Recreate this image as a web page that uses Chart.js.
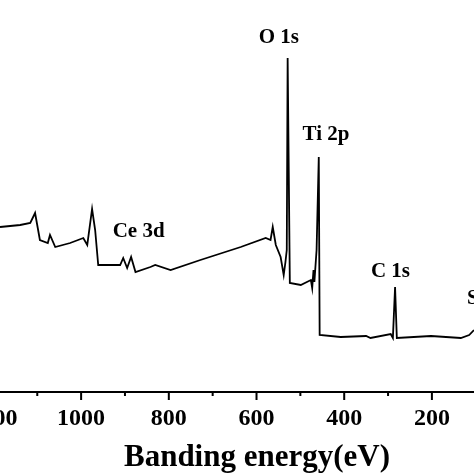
<!DOCTYPE html>
<html>
<head>
<meta charset="utf-8">
<script src="https://cdn.jsdelivr.net/npm/chart.js@4"></script>
<style>
  html, body { margin: 0; padding: 0; background: #fff; }
  #wrap { width: 474px; height: 474px; }
</style>
</head>
<body>
<div id="wrap"><canvas id="xps"></canvas></div>
<script>
// binding energy (eV) and intensity (a.u.)
const energy = [1185, 1139, 1116, 1105, 1094, 1076, 1071, 1059, 1025, 995, 986, 975, 968, 961,
  911, 904, 895, 886, 876, 842, 831, 796, 728, 636, 579, 568, 563, 556, 545, 538, 534, 531, 529,
  524, 499, 476, 473, 470, 468, 463, 458, 456, 408, 350, 340, 294, 289, 284, 280, 202, 134, 115, 104];
const intensity = [165, 167, 169, 179, 152, 149, 157, 145, 149, 154, 147, 183, 162, 127,
  127, 134, 124, 135, 120, 125, 127, 122, 132, 145, 154, 152, 165, 147, 135, 117, 130, 142, 334,
  109, 107, 112, 104, 122, 110, 142, 235, 57, 55, 56, 54, 58, 54, 105, 54, 56, 54, 57, 62];
const majorTicks = [1200, 1000, 800, 600, 400, 200];
const minorTicks = [1100, 900, 700, 500, 300];
const peakLabels = [
  { text: 'O 1s', e: 595, y: 354 },
  { text: 'Ti 2p', e: 495, y: 257 },
  { text: 'Ce 3d', e: 928, y: 160 },
  { text: 'C 1s', e: 339, y: 120 },
  { text: 'S', e: 120, y: 93 }
];

const serif = '"Liberation Serif", "DejaVu Serif", serif';

const axisPlugin = {
  id: 'xpsAxis',
  afterDraw(chart) {
    const ctx = chart.ctx;
    const xs = chart.scales.x, ys = chart.scales.y;
    const base = chart.chartArea.bottom;
    ctx.save();
    ctx.strokeStyle = '#000';
    ctx.lineWidth = 2;
    ctx.beginPath();
    ctx.moveTo(0, base); ctx.lineTo(474, base);
    majorTicks.forEach(v => { const p = xs.getPixelForValue(v); ctx.moveTo(p, base); ctx.lineTo(p, base + 8); });
    minorTicks.forEach(v => { const p = xs.getPixelForValue(v); ctx.moveTo(p, base); ctx.lineTo(p, base + 4); });
    ctx.stroke();
    ctx.fillStyle = '#000';
    ctx.textAlign = 'center';
    ctx.textBaseline = 'middle';
    ctx.font = 'bold 24px ' + serif;
    majorTicks.forEach(v => ctx.fillText(String(v), xs.getPixelForValue(v), base + 27));
    ctx.font = 'bold 31px ' + serif;
    ctx.fillText('Banding energy(eV)', 257, base + 66);
    ctx.font = 'bold 21px ' + serif;
    ctx.textAlign = 'left';
    peakLabels.forEach(l => ctx.fillText(l.text, xs.getPixelForValue(l.e), ys.getPixelForValue(l.y)));
    ctx.restore();
  }
};

new Chart(document.getElementById('xps'), {
  type: 'line',
  data: {
    datasets: [{
      data: energy.map((e, i) => ({ x: e, y: intensity[i] })),
      borderColor: '#000',
      borderWidth: 1.8,
      pointRadius: 0,
      tension: 0
    }]
  },
  options: {
    responsive: true,
    maintainAspectRatio: false,
    animation: false,
    layout: { padding: 0 },
    plugins: { legend: { display: false }, tooltip: { enabled: false } },
    scales: {
      x: {
        type: 'linear', reverse: true, min: 104, max: 1185,
        grid: { display: false, drawTicks: false },
        border: { display: false },
        ticks: { display: false },
        afterFit(scale) { scale.height = 82; }
      },
      y: { display: false, min: 0, max: 392 }
    }
  },
  plugins: [axisPlugin]
});
</script>
</body>
</html>
